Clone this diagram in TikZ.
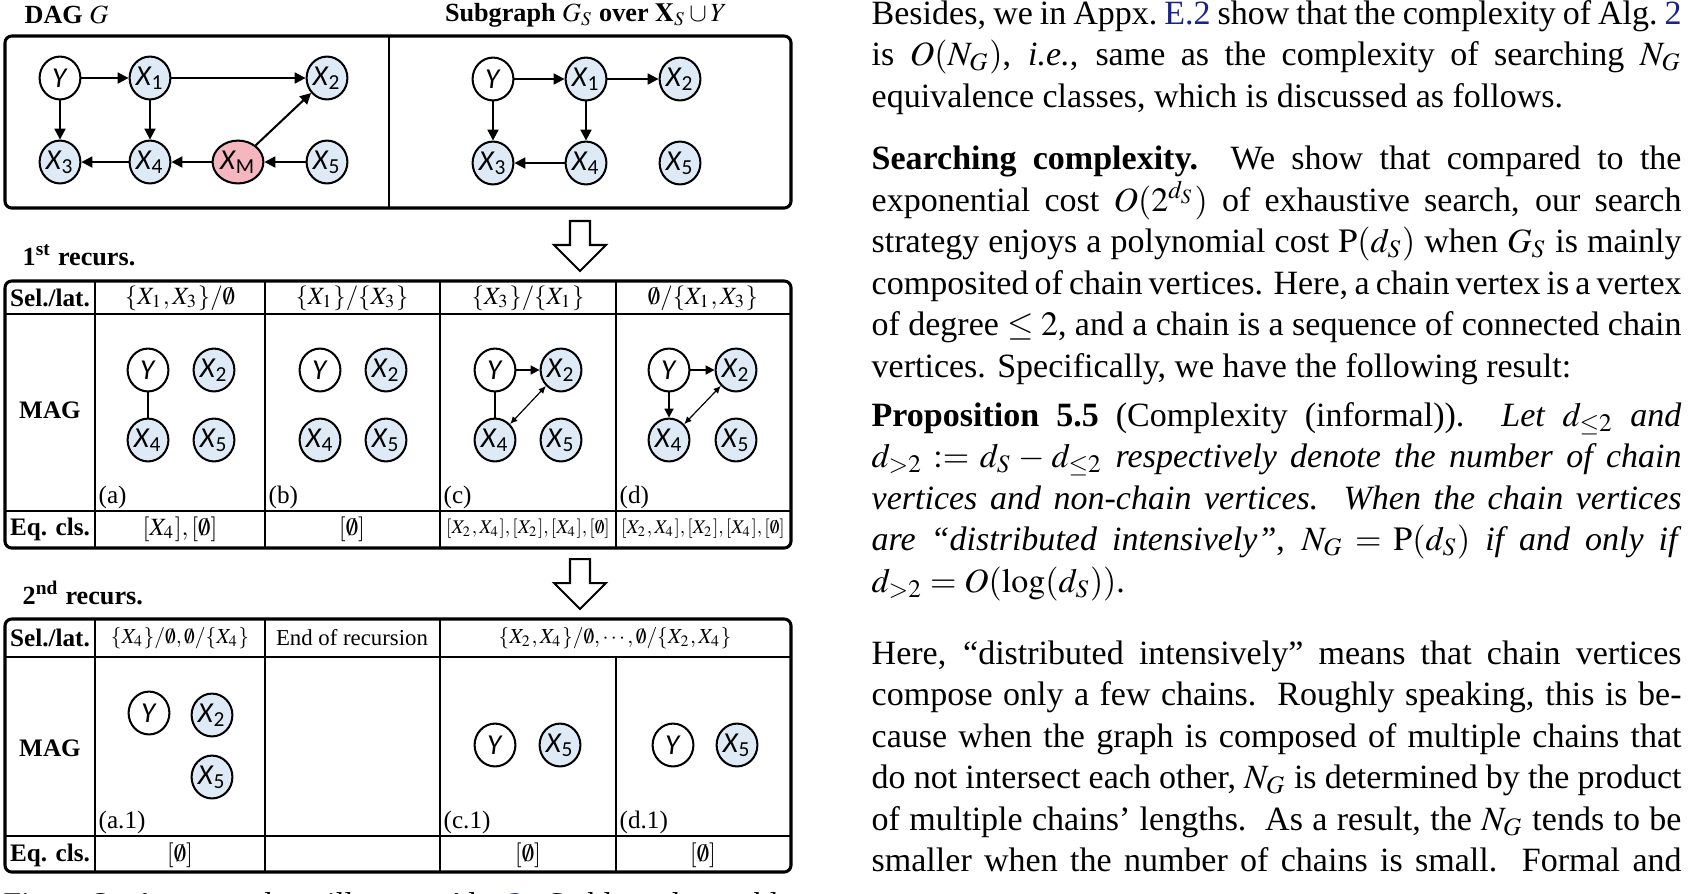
\documentclass[tikz,border=0pt]{standalone}
\usepackage{mathptmx}
\usepackage{fontspec}
\setmainfont{Liberation Serif}
\newfontfamily\nodefont{Carlito}
\usetikzlibrary{arrows.meta,shapes.geometric}
\definecolor{obsblue}{RGB}{222,235,247}
\definecolor{latpink}{RGB}{245,182,192}
\definecolor{linkblue}{RGB}{25,35,140}
\newcommand{\nX}[1]{\textit{X}\textsubscript{#1}}
\newcommand{\jline}[2][238.1pt]{\makebox[#1][s]{#2}}
\tikzset{
  vert/.style={ellipse, draw, line width=0.6pt, fill=white, minimum width=12pt, minimum height=12.6pt, inner sep=0pt, font=\nodefont\fontsize{8.5}{9}\selectfont},
  obs/.style={vert, fill=obsblue},
  lat/.style={vert, fill=latpink},
  dir/.style={-{Triangle[length=3.2pt,width=3.2pt]}, line width=0.6pt},
  sdir/.style={-{Triangle[length=2.6pt,width=2.6pt]}, line width=0.5pt},
  und/.style={line width=0.5pt},
  bid/.style={{Latex[length=2.2pt,width=2pt]}-{Latex[length=2.2pt,width=2pt]}, line width=0.35pt},
  frame/.style={line width=0.9pt, rounded corners=2pt},
  rule/.style={line width=0.5pt},
  hollow/.style={draw, line width=0.6pt, fill=white},
  head/.style={anchor=west, inner sep=0pt, font=\bfseries\fontsize{7.7}{9}\selectfont},
  rowlab/.style={inner sep=0pt, font=\bfseries\fontsize{7.4}{9}\selectfont},
  cell/.style={inner sep=0pt, font=\fontsize{7.3}{9}\selectfont},
  narrow/.style={inner sep=0pt, font=\fontsize{6.3}{8}\selectfont},
  tiny/.style={inner sep=0pt, font=\fontsize{5.7}{7}\selectfont},
  sublab/.style={anchor=west, inner sep=0pt, font=\fontsize{7.4}{9}\selectfont},
  tline/.style={anchor=base west, inner sep=0pt, font=\fontsize{10}{12}\selectfont}
}
\begin{document}
\begin{tikzpicture}[x=0.294pt, y=-0.294pt]
\useasboundingbox (0,0) rectangle (1690,893);
\clip (0,0) rectangle (1690,893);

% DAG and subgraph
\node[head] (hdag) at (24,15) {DAG \mdseries$G$};
\node[head, anchor=center] (hsub) at (586,15) {Subgraph \mdseries$G_S$ \bfseries over \mdseries$\mathbf{X}_S\cup Y$};
\draw[frame] (5,36) rectangle (791,208);
\draw[line width=0.4pt] (389,36) -- (389,208);

\node[vert] (gY) at (60,78) {\textit{Y}};
\node[obs] (gX1) at (150,78) {\nX{1}};
\node[obs] (gX2) at (327,78) {\nX{2}};
\node[obs] (gX3) at (60,162) {\nX{3}};
\node[obs] (gX4) at (150,162) {\nX{4}};
\node[lat] (gXM) at (238,162) {\nX{M}};
\node[obs] (gX5) at (327,162) {\nX{5}};
\draw[dir] (gY) -- (gX1);
\draw[dir] (gX1) -- (gX2);
\draw[dir] (gY) -- (gX3);
\draw[dir] (gX1) -- (gX4);
\draw[dir] (gX4) -- (gX3);
\draw[dir] (gXM) -- (gX4);
\draw[dir] (gX5) -- (gXM);
\draw[dir] (gXM) -- (gX2);

\node[vert] (sY) at (493,79) {\textit{Y}};
\node[obs] (sX1) at (586,79) {\nX{1}};
\node[obs] (sX2) at (680,79) {\nX{2}};
\node[obs] (sX3) at (493,163) {\nX{3}};
\node[obs] (sX4) at (586,163) {\nX{4}};
\node[obs] (sX5) at (680,163) {\nX{5}};
\draw[dir] (sY) -- (sX1);
\draw[dir] (sX1) -- (sX2);
\draw[dir] (sY) -- (sX3);
\draw[dir] (sX1) -- (sX4);
\draw[dir] (sX4) -- (sX3);

% big arrows
\foreach \t in {0,338}
  \draw[hollow] (570,221+\t) -- (590,221+\t) -- (590,245+\t) -- (606,245+\t) -- (580,271+\t) -- (554,245+\t) -- (570,245+\t) -- cycle;

% 1st recursion
\node[head] (rec1) at (22,255) {1\textsuperscript{st} recurs.};
\draw[rule] (5,314) -- (791,314) (5,511) -- (791,511);
\foreach \x in {95,265,440,616} \draw[rule] (\x,281) -- (\x,548);
\draw[frame] (5,281) rectangle (791,548);
\node[rowlab] (sel1) at (50,298) {Sel./lat.};
\node[rowlab] (mag1) at (50,410) {MAG};
\node[rowlab] (eq1) at (50,529) {Eq. cls.};
\node[cell] (s1a) at (180,298) {$\{X_1,X_3\}/\emptyset$};
\node[cell] (s1b) at (352,298) {$\{X_1\}/\{X_3\}$};
\node[cell] (s1c) at (528,298) {$\{X_3\}/\{X_1\}$};
\node[cell] (s1d) at (703,298) {$\emptyset/\{X_1,X_3\}$};
\node[cell] (e1a) at (180,529) {$[X_4],[\emptyset]$};
\node[cell] (e1b) at (352,529) {$[\emptyset]$};
\node[tiny] (e1c) at (528,529) {$[X_2,X_4],[X_2],[X_4],[\emptyset]$};
\node[tiny] (e1d) at (703,529) {$[X_2,X_4],[X_2],[X_4],[\emptyset]$};
\node[sublab] (la) at (98,497) {(a)};
\node[sublab] (lb) at (268,497) {(b)};
\node[sublab] (lc) at (443,497) {(c)};
\node[sublab] (ld) at (619,497) {(d)};

\node[vert] (aY) at (148,370) {\textit{Y}};
\node[obs] (aX2) at (214,370) {\nX{2}};
\node[obs] (aX4) at (148,440) {\nX{4}};
\node[obs] (aX5) at (214,440) {\nX{5}};
\draw[und] (aY) -- (aX4);

\node[vert] (bY) at (320,370) {\textit{Y}};
\node[obs] (bX2) at (386,370) {\nX{2}};
\node[obs] (bX4) at (320,440) {\nX{4}};
\node[obs] (bX5) at (386,440) {\nX{5}};

\node[vert] (cY) at (495,370) {\textit{Y}};
\node[obs] (cX2) at (561,370) {\nX{2}};
\node[obs] (cX4) at (495,440) {\nX{4}};
\node[obs] (cX5) at (561,440) {\nX{5}};
\draw[sdir] (cY) -- (cX2);
\draw[und] (cY) -- (cX4);
\draw[bid] (cX2) -- (cX4);

\node[vert] (dY) at (669,370) {\textit{Y}};
\node[obs] (dX2) at (736,370) {\nX{2}};
\node[obs] (dX4) at (669,440) {\nX{4}};
\node[obs] (dX5) at (736,440) {\nX{5}};
\draw[sdir] (dY) -- (dX2);
\draw[sdir] (dY) -- (dX4);
\draw[bid] (dX2) -- (dX4);

% 2nd recursion
\node[head] (rec2) at (22,593) {2\textsuperscript{nd} recurs.};
\draw[rule] (5,657) -- (791,657) (5,836) -- (791,836);
\foreach \x in {95,265,440} \draw[rule] (\x,619) -- (\x,872);
\draw[rule] (616,657) -- (616,872);
\draw[frame] (5,619) rectangle (791,872);
\node[rowlab] (sel2) at (50,638) {Sel./lat.};
\node[rowlab] (mag2) at (50,748) {MAG};
\node[rowlab] (eq2) at (50,855) {Eq. cls.};
\node[narrow] (s2a) at (180,638) {$\{X_4\}/\emptyset,\emptyset/\{X_4\}$};
\node[narrow, font=\fontsize{6.7}{8}\selectfont] (s2b) at (352,638) {End of recursion};
\node[narrow] (s2c) at (615,638) {$\{X_2,X_4\}/\emptyset,\cdots,\emptyset/\{X_2,X_4\}$};
\node[cell] (e2a) at (180,855) {$[\emptyset]$};
\node[cell] (e2c) at (528,855) {$[\emptyset]$};
\node[cell] (e2d) at (703,855) {$[\emptyset]$};
\node[sublab] (la1) at (98,822) {(a.1)};
\node[sublab] (lc1) at (443,822) {(c.1)};
\node[sublab] (ld1) at (619,822) {(d.1)};

\node[vert] (a1Y) at (149,713) {\textit{Y}};
\node[obs] (a1X2) at (212,715) {\nX{2}};
\node[obs] (a1X5) at (212,777) {\nX{5}};
\node[vert] (c1Y) at (495,745) {\textit{Y}};
\node[obs] (c1X5) at (560,745) {\nX{5}};
\node[vert] (d1Y) at (673,745) {\textit{Y}};
\node[obs] (d1X5) at (737,745) {\nX{5}};

% caption (cut by the page edge)
\node[tline, font=\fontsize{9.3}{11}\selectfont] (cap) at (3,914) {\jline[232pt]{Figure 3:\ \ An example to illustrate Alg.~\textcolor{linkblue}{2}.\ \ Stable and unstable}};

% right column
\node[tline] (t1) at (871,24) {\jline{Besides, we in Appx.~\textcolor{linkblue}{E.2} show that the complexity of Alg.~\textcolor{linkblue}{2}}};
\node[tline] (t2) at (871,65.5) {\jline{is $O(N_G)$, \textit{i.e.}, same as the complexity of searching $N_G$}};
\node[tline] (t3) at (871,107) {equivalence classes, which is discussed as follows.};
\node[tline] (t4) at (871,169.5) {\jline{\textbf{Searching complexity.}\ \ We show that compared to the}};
\node[tline] (t5) at (871,211) {\jline{exponential cost $O(2^{d_S})$ of exhaustive search, our search}};
\node[tline] (t6) at (871,252.5) {\jline{strategy enjoys a polynomial cost $\mathrm{P}(d_S)$ when $G_S$ is mainly}};
\node[tline] (t7) at (871,294) {\jline{composited of chain vertices. Here, a chain vertex is a vertex}};
\node[tline] (t8) at (871,335.5) {\jline{of degree $\leq 2$, and a chain is a sequence of connected chain}};
\node[tline] (t9) at (871,377) {vertices. Specifically, we have the following result:};
\node[tline] (t10) at (871,426) {\jline{\textbf{Proposition 5.5} (Complexity (informal)). \textit{Let} $d_{\leq 2}$ \textit{and}}};
\node[tline] (t11) at (871,467.5) {\jline{$d_{>2}:=d_S-d_{\leq 2}$ \textit{respectively denote the number of chain}}};
\node[tline] (t12) at (871,509) {\jline{\textit{vertices and non-chain vertices.\ \ When the chain vertices}}};
\node[tline] (t13) at (871,550.5) {\jline{\textit{are ``distributed intensively''}, $N_G=\mathrm{P}(d_S)$ \textit{if and only if}}};
\node[tline] (t14) at (871,592) {$d_{>2}=O(\log(d_S))$.};
\node[tline] (t15) at (871,664) {\jline{Here, ``distributed intensively'' means that chain vertices}};
\node[tline] (t16) at (871,705.5) {\jline{compose only a few chains.\ \ Roughly speaking, this is be-}};
\node[tline] (t17) at (871,747) {\jline{cause when the graph is composed of multiple chains that}};
\node[tline] (t18) at (871,788.5) {\jline{do not intersect each other, $N_G$ is determined by the product}};
\node[tline] (t19) at (871,830) {\jline{of multiple chains' lengths.\ \ As a result, the $N_G$ tends to be}};
\node[tline] (t20) at (871,871.5) {\jline{smaller when the number of chains is small.\ \ Formal and}};
\end{tikzpicture}
\end{document}
